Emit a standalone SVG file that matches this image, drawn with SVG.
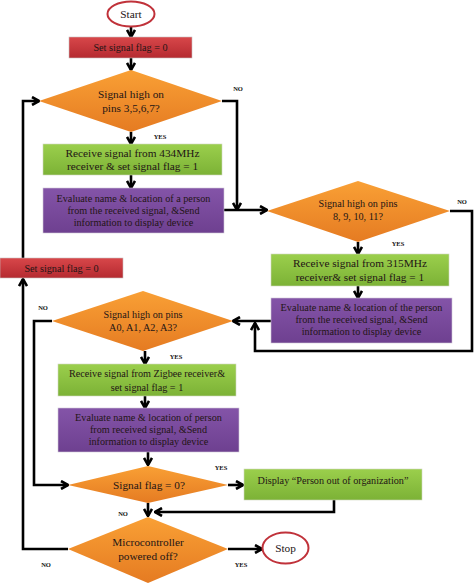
<svg xmlns="http://www.w3.org/2000/svg" width="474" height="584" viewBox="0 0 474 584">
<defs>
<linearGradient id="gRed" x1="0" y1="0" x2="0" y2="1"><stop offset="0" stop-color="#d8474a"/><stop offset="1" stop-color="#b52a30"/></linearGradient>
<linearGradient id="gGreen" x1="0" y1="0" x2="0" y2="1"><stop offset="0" stop-color="#9bcf4c"/><stop offset="1" stop-color="#7cb236"/></linearGradient>
<linearGradient id="gPurple" x1="0" y1="0" x2="0" y2="1"><stop offset="0" stop-color="#8454a8"/><stop offset="1" stop-color="#6e4090"/></linearGradient>
<linearGradient id="gOrange" x1="0" y1="0" x2="0" y2="1"><stop offset="0" stop-color="#f9a035"/><stop offset="1" stop-color="#e57b22"/></linearGradient>
<marker id="arr" viewBox="0 0 10 10" refX="9" refY="5" markerWidth="10" markerHeight="10" markerUnits="userSpaceOnUse" orient="auto">
<path d="M2,1 L9,5 L2,9" fill="none" stroke="#000" stroke-width="2.6" stroke-linejoin="miter"/>
</marker>
</defs>
<style>
.t{font-family:"Liberation Serif","Times New Roman",serif;fill:#231515;text-anchor:middle}
.b{font-size:11.3px}
.s{font-size:10.2px}
.lab{font-family:"Liberation Serif","Times New Roman",serif;font-size:6.5px;font-weight:bold;fill:#111;text-anchor:middle}
.red{fill:url(#gRed);stroke:#c8c0c0;stroke-width:0.6}
.green{fill:url(#gGreen);stroke:#d0d8c0;stroke-width:0.6}
.purple{fill:url(#gPurple);stroke:#d0c8d8;stroke-width:0.6}
.dia{fill:url(#gOrange)}
.term{fill:#fff;stroke:#c0323a;stroke-width:2}
.c{fill:none;stroke:#000;stroke-width:2.6}
.ca{fill:none;stroke:#000;stroke-width:2.6;marker-end:url(#arr)}
</style>

<g id="connectors">
<line class="ca" x1="131" y1="27" x2="131" y2="37"/>
<line class="ca" x1="131" y1="58" x2="131" y2="70"/>
<line class="ca" x1="131" y1="132" x2="131" y2="144"/>
<line class="ca" x1="131" y1="175" x2="131" y2="188"/>
<line class="ca" x1="224" y1="210" x2="267" y2="210"/>
<polyline class="ca" points="222,101 237,101 237,210"/>
<line class="ca" x1="358" y1="242" x2="358" y2="254"/>
<line class="ca" x1="358" y1="286" x2="358" y2="298"/>
<line class="ca" x1="271" y1="321" x2="233" y2="321"/>
<polyline class="ca" points="450,211 472,211 472,351 255,351 255,323"/>
<line class="ca" x1="145" y1="351" x2="145" y2="364"/>
<line class="ca" x1="145" y1="396" x2="145" y2="408"/>
<line class="ca" x1="148" y1="452" x2="148" y2="465"/>
<polyline class="ca" points="52,321 34,321 34,485 68,485"/>
<line class="ca" x1="228" y1="485" x2="243" y2="485"/>
<polyline class="ca" points="334,500 334,512 155,512"/>
<line class="ca" x1="148" y1="503" x2="148" y2="516"/>
<line class="ca" x1="228" y1="549" x2="262" y2="549"/>
<polyline class="ca" points="68,549 23,549 23,279"/>
<polyline class="ca" points="23,258 23,101 39,101"/>
<text class="lab" x="238" y="91">NO</text>
<text class="lab" x="160" y="139">YES</text>
<text class="lab" x="462" y="204">NO</text>
<text class="lab" x="398" y="246">YES</text>
<text class="lab" x="43" y="310">NO</text>
<text class="lab" x="176" y="359">YES</text>
<text class="lab" x="221" y="470">YES</text>
<text class="lab" x="123" y="516">NO</text>
<text class="lab" x="46" y="567">NO</text>
<text class="lab" x="241" y="567">YES</text>
</g>

<g id="start">
<ellipse class="term" cx="131" cy="14" rx="23.5" ry="12.5"/>
<text class="t b" x="131" y="18">Start</text>
</g>

<g id="set-flag-1">
<rect class="red" x="69" y="37" width="123" height="21"/>
<text class="t s" x="130.5" y="51">Set signal flag = 0</text>
</g>

<g id="decision-1">
<polygon class="dia" points="131,70 222,101 131,132 39,101"/>
<text class="t b" x="131" y="98">Signal high on</text>
<text class="t b" x="131" y="112">pins 3,5,6,7?</text>
</g>

<g id="receive-434">
<rect class="green" x="43" y="144" width="179" height="31"/>
<text class="t b" x="132.5" y="157">Receive signal from 434MHz</text>
<text class="t b" x="132.5" y="170">receiver &amp; set signal flag = 1</text>
</g>

<g id="evaluate-1">
<rect class="purple" x="43" y="188" width="181" height="45"/>
<text class="t s" x="133.5" y="202">Evaluate name &amp; location of a person</text>
<text class="t s" x="133.5" y="214">from the received signal, &amp;Send</text>
<text class="t s" x="133.5" y="226">information to display device</text>
</g>

<g id="decision-2">
<polygon class="dia" points="358,181 450,211 358,242 267,211"/>
<text class="t s" x="358" y="207">Signal high on pins</text>
<text class="t s" x="358" y="220">8, 9, 10, 11?</text>
</g>

<g id="receive-315">
<rect class="green" x="271" y="254" width="178" height="32"/>
<text class="t b" x="360" y="267">Receive signal from 315MHz</text>
<text class="t b" x="360" y="281">receiver&amp; set signal flag = 1</text>
</g>

<g id="evaluate-2">
<rect class="purple" x="271" y="298" width="181" height="45"/>
<text class="t s" x="361.5" y="311">Evaluate name &amp; location of the person</text>
<text class="t s" x="361.5" y="323">from the received signal, &amp;Send</text>
<text class="t s" x="361.5" y="335">information to display device</text>
</g>

<g id="set-flag-2">
<rect class="red" x="0" y="258" width="123" height="20"/>
<text class="t s" x="61.5" y="272">Set signal flag = 0</text>
</g>

<g id="decision-3">
<polygon class="dia" points="143,291 233,321 143,351 52,321"/>
<text class="t s" x="143" y="318">Signal high on pins</text>
<text class="t s" x="143" y="331">A0, A1, A2, A3?</text>
</g>

<g id="receive-zigbee">
<rect class="green" x="58" y="364" width="178" height="32"/>
<text class="t s" x="147" y="377">Receive signal from Zigbee receiver&amp;</text>
<text class="t s" x="147" y="391">set signal flag = 1</text>
</g>

<g id="evaluate-3">
<rect class="purple" x="58" y="408" width="181" height="44"/>
<text class="t s" x="148.5" y="421">Evaluate name &amp; location of person</text>
<text class="t s" x="148.5" y="433">from received signal, &amp;Send</text>
<text class="t s" x="148.5" y="445">information to display device</text>
</g>

<g id="decision-4">
<polygon class="dia" points="148,466 228,485 148,503 68,485"/>
<text class="t b" x="149" y="489">Signal flag = 0?</text>
</g>

<g id="display-out">
<rect class="green" x="244" y="469" width="178" height="31"/>
<text class="t s" x="333" y="484">Display “Person out of organization”</text>
</g>

<g id="decision-5">
<polygon class="dia" points="148,517 228,549 148,583 68,549"/>
<text class="t b" x="148" y="546">Microcontroller</text>
<text class="t b" x="148" y="560">powered off?</text>
</g>

<g id="stop">
<ellipse class="term" cx="285.5" cy="548" rx="23" ry="15.5"/>
<text class="t b" x="285.5" y="552">Stop</text>
</g>
</svg>
